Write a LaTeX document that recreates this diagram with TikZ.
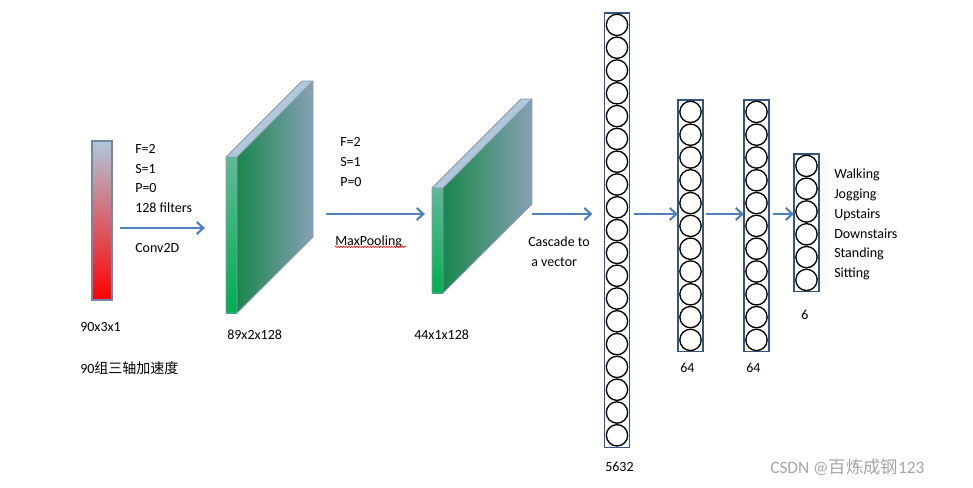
\documentclass[tikz,border=0pt]{standalone}
\usepackage{fontspec}
\setmainfont{Carlito}
\newfontfamily\cjk{Noto Sans CJK SC}
\usetikzlibrary{decorations.pathmorphing}
\definecolor{arr}{RGB}{79,129,189}
\definecolor{frame}{RGB}{56,83,128}
\definecolor{sideL}{RGB}{25,135,75}
\definecolor{sideR}{RGB}{135,160,180}
\definecolor{topc}{RGB}{175,200,218}
\definecolor{frontT}{RGB}{95,185,150}
\definecolor{frontB}{RGB}{0,175,80}
\tikzset{
  ar/.style={arr,line width=1.6pt,-{Straight Barb[length=5pt,width=9pt]}},
  lbl/.style={anchor=west,inner sep=0pt,font=\fontsize{10.5pt}{12pt}\selectfont},
  neuron/.style={circle,draw=black,line width=1pt,minimum size=16pt,inner sep=0pt},
  col/.style={draw=frame,line width=1pt}
}
\usetikzlibrary{arrows.meta}
\begin{document}
\begin{tikzpicture}[x=0.75pt,y=-0.75pt]
\useasboundingbox (0,0) rectangle (973,487);
% input bar
\shade[top color=topc,bottom color=red] (92,141) rectangle (112,300);
\draw[frame!70,line width=0.8pt] (92,141) rectangle (112,300);
\node[coordinate] (in) at (112,228) {};
% slab 1
\def\slab#1#2#3#4#5#6{%
 \shade[left color=sideL,right color=sideR] (#2,#3) -- (#2+#5,#3-#5) -- (#2+#5,#4-#5) -- (#2,#4) -- cycle;
 \fill[topc] (#1,#3) -- (#1+#5,#3-#5) -- (#2+#5,#3-#5) -- (#2,#3) -- cycle;
 \shade[top color=frontT,bottom color=frontB] (#1,#3) rectangle (#2,#4);
 \draw[frame!60,line width=0.6pt] (#1,#3) rectangle (#2,#4) (#1,#3) -- (#1+#5,#3-#5) -- (#2+#5,#3-#5) -- (#2+#5,#4-#5) -- (#2,#4) (#2,#3) -- (#2+#5,#3-#5);
}
\slab{226}{237}{157}{313}{76}{}
\slab{432}{443}{188}{293}{89}{}
\coordinate (s1l) at (205,228);
\coordinate (s1r) at (326,214);
\coordinate (s2l) at (425,214);
\coordinate (s2r) at (532,214);
\draw[ar] (120,228) -- (s1l);
\draw[ar] (s1r) -- (s2l);
% columns
\def\column#1#2#3#4{% name, x, ytop, n
 \draw[col] (#2-12.5,#3) rectangle (#2+12.5,#3+22.8*#4+1);
 \foreach \i in {1,...,#4} {\node[neuron] at (#2,#3+0.5+22.8*\i-11.4) {};}
 \coordinate (#1w) at (#2-12.5,214);
 \coordinate (#1e) at (#2+12.5,214);
}
\column{c1}{617}{13}{19}
\column{c2}{690.5}{100}{11}
\column{c3}{756.5}{100}{11}
\column{c4}{806.5}{154}{6}
\draw[ar] (s2r) -- ([xshift=-9pt]c1w);
\draw[ar] (c1e) ++(4,0) -- (c2w);
\draw[ar] (c2e) ++(3,0) -- (c3w);
\draw[ar] (c3e) ++(4,0) -- (c4w);
% texts
\node[lbl] (t1) at (135,149) {F=2};
\node[lbl] (t2) at (135,169) {S=1};
\node[lbl] (t3) at (135,188) {P=0};
\node[lbl] (t4) at (135,208) {128 filters};
\node[lbl] (t5) at (135,248) {Conv2D};
\node[lbl] (u1) at (340,142) {F=2};
\node[lbl] (u2) at (340,162) {S=1};
\node[lbl] (u3) at (340,182) {P=0};
\node[lbl] (u4) at (335,242) {MaxPooling};
\draw[red,line width=0.4pt,decorate,decoration={zigzag,amplitude=0.6pt,segment length=2pt}] (u4.south west)++(0,-1.5) -- ++(71,0);
\node[lbl] (v1) at (528,242) {Cascade to};
\node[lbl] (v2) at (531,262) {a vector};
\node[lbl] (l1) at (80,327) {90x3x1};
\node[lbl] (l2) at (227,335) {89x2x128};
\node[lbl] (l3) at (414,335) {44x1x128};
\node[lbl] (l4) at (80,368) {90{\cjk 组三轴加速度}};
\node[lbl] (n1) at (605,467) {5632};
\node[lbl] (n2) at (680,368) {64};
\node[lbl] (n3) at (746,368) {64};
\node[lbl] (n4) at (801,315) {6};
\foreach \t [count=\k] in {Walking,Jogging,Upstairs,Downstairs,Standing,Sitting}
  \node[lbl] at (834,155+19.8*\k) {\t};
\node[lbl,text=black!35,font=\fontsize{13pt}{14pt}\selectfont] (wm) at (770,467) {CSDN @{\cjk 百炼成钢}123};
\end{tikzpicture}
\end{document}
